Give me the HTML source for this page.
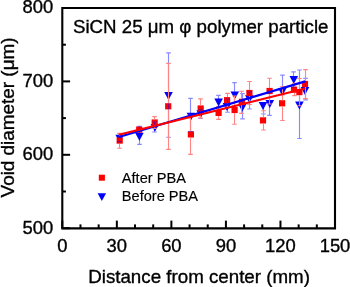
<!DOCTYPE html>
<html><head><meta charset="utf-8"><style>
html,body{margin:0;padding:0;background:#fff;}
svg{display:block;will-change:transform;font-family:"Liberation Sans",sans-serif;}
text{stroke:#000;stroke-width:0.35px;} .lg{stroke-width:0.15px;}
</style></head><body>
<svg width="350" height="287" viewBox="0 0 350 287">
<rect width="350" height="287" fill="#fff"/>
<g><path d="M115.40 134.80H124.00L119.70 142.70Z" fill="#0000ff"/><path d="M135.10 132.80H143.70L139.40 140.70Z" fill="#0000ff"/><path d="M150.60 123.90H159.20L154.90 131.80Z" fill="#0000ff"/><path d="M164.20 92.10H172.80L168.50 100.00Z" fill="#0000ff"/><path d="M186.60 112.70H195.20L190.90 120.60Z" fill="#0000ff"/><path d="M196.40 110.20H205.00L200.70 118.10Z" fill="#0000ff"/><path d="M214.30 98.60H222.90L218.60 106.50Z" fill="#0000ff"/><path d="M222.70 103.00H231.30L227.00 110.90Z" fill="#0000ff"/><path d="M230.50 91.40H239.10L234.80 99.30Z" fill="#0000ff"/><path d="M238.00 103.80H246.60L242.30 111.70Z" fill="#0000ff"/><path d="M245.00 95.20H253.60L249.30 103.10Z" fill="#0000ff"/><path d="M258.70 102.00H267.30L263.00 109.90Z" fill="#0000ff"/><path d="M265.50 100.10H274.10L269.80 108.00Z" fill="#0000ff"/><path d="M278.00 88.00H286.60L282.30 95.90Z" fill="#0000ff"/><path d="M289.50 76.00H298.10L293.80 83.90Z" fill="#0000ff"/><path d="M295.10 101.60H303.70L299.40 109.50Z" fill="#0000ff"/><path d="M300.70 87.10H309.30L305.00 95.00Z" fill="#0000ff"/><rect x="116.60" y="137.50" width="6.2" height="6.2" fill="#ff0000"/><rect x="136.10" y="126.50" width="6.2" height="6.2" fill="#ff0000"/><rect x="151.60" y="119.40" width="6.2" height="6.2" fill="#ff0000"/><rect x="165.10" y="103.20" width="6.2" height="6.2" fill="#ff0000"/><rect x="187.80" y="131.30" width="6.2" height="6.2" fill="#ff0000"/><rect x="197.60" y="105.40" width="6.2" height="6.2" fill="#ff0000"/><rect x="215.50" y="109.80" width="6.2" height="6.2" fill="#ff0000"/><rect x="224.00" y="97.10" width="6.2" height="6.2" fill="#ff0000"/><rect x="231.50" y="106.90" width="6.2" height="6.2" fill="#ff0000"/><rect x="238.80" y="98.70" width="6.2" height="6.2" fill="#ff0000"/><rect x="246.30" y="89.90" width="6.2" height="6.2" fill="#ff0000"/><rect x="259.90" y="117.30" width="6.2" height="6.2" fill="#ff0000"/><rect x="266.50" y="87.90" width="6.2" height="6.2" fill="#ff0000"/><rect x="279.00" y="100.20" width="6.2" height="6.2" fill="#ff0000"/><rect x="290.90" y="86.60" width="6.2" height="6.2" fill="#ff0000"/><rect x="296.30" y="89.00" width="6.2" height="6.2" fill="#ff0000"/><rect x="301.90" y="80.90" width="6.2" height="6.2" fill="#ff0000"/><path d="M119.5 135.7V136.6M117.2 135.7H121.8M119.5 140.6V141.6M117.2 141.6H121.8" fill="none" stroke="#0000ff" stroke-opacity="0.46" stroke-width="1.15"/><path d="M139.5 126.2V134.6M137.2 126.2H141.8M139.5 138.6V144.3M137.2 144.3H141.8" fill="none" stroke="#0000ff" stroke-opacity="0.46" stroke-width="1.15"/><path d="M154.5 122.0V125.7M152.2 122.0H156.8M154.5 129.7V132.0M152.2 132.0H156.8" fill="none" stroke="#0000ff" stroke-opacity="0.46" stroke-width="1.15"/><path d="M168.5 52.8V93.9M166.2 52.8H170.8M168.5 97.9V137.2M166.2 137.2H170.8" fill="none" stroke="#0000ff" stroke-opacity="0.46" stroke-width="1.15"/><path d="M190.5 98.4V114.5M188.2 98.4H192.8M190.5 118.5V131.5M188.2 131.5H192.8" fill="none" stroke="#0000ff" stroke-opacity="0.46" stroke-width="1.15"/><path d="M200.5 109.7V112.0M198.2 109.7H202.8M200.5 116.0V118.3M198.2 118.3H202.8" fill="none" stroke="#0000ff" stroke-opacity="0.46" stroke-width="1.15"/><path d="M218.5 95.3V100.4M216.2 95.3H220.8M218.5 104.4V108.0M216.2 108.0H220.8" fill="none" stroke="#0000ff" stroke-opacity="0.46" stroke-width="1.15"/><path d="M227.5 99.0V104.8M225.2 99.0H229.8M227.5 108.8V112.2M225.2 112.2H229.8" fill="none" stroke="#0000ff" stroke-opacity="0.46" stroke-width="1.15"/><path d="M234.5 82.6V93.2M232.2 82.6H236.8M234.5 97.2V106.0M232.2 106.0H236.8" fill="none" stroke="#0000ff" stroke-opacity="0.46" stroke-width="1.15"/><path d="M242.5 93.6V105.6M240.2 93.6H244.8M242.5 109.6V118.8M240.2 118.8H244.8" fill="none" stroke="#0000ff" stroke-opacity="0.46" stroke-width="1.15"/><path d="M249.5 92.0V97.0M247.2 92.0H251.8M249.5 101.0V109.0M247.2 109.0H251.8" fill="none" stroke="#0000ff" stroke-opacity="0.46" stroke-width="1.15"/><path d="M263.5 102.5V103.8M261.2 102.5H265.8M263.5 107.8V114.0M261.2 114.0H265.8" fill="none" stroke="#0000ff" stroke-opacity="0.46" stroke-width="1.15"/><path d="M269.5 92.0V101.9M267.2 92.0H271.8M269.5 105.9V115.3M267.2 115.3H271.8" fill="none" stroke="#0000ff" stroke-opacity="0.46" stroke-width="1.15"/><path d="M282.5 75.1V89.8M280.2 75.1H284.8M282.5 93.8V95.0M280.2 95.0H284.8" fill="none" stroke="#0000ff" stroke-opacity="0.46" stroke-width="1.15"/><path d="M293.5 71.9V77.8M291.2 71.9H295.8M293.5 81.8V87.0M291.2 87.0H295.8" fill="none" stroke="#0000ff" stroke-opacity="0.46" stroke-width="1.15"/><path d="M299.5 70.0V103.4M297.2 70.0H301.8M299.5 107.4V138.5M297.2 138.5H301.8" fill="none" stroke="#0000ff" stroke-opacity="0.46" stroke-width="1.15"/><path d="M305.5 78.3V88.9M303.2 78.3H307.8M305.5 92.9V99.9M303.2 99.9H307.8" fill="none" stroke="#0000ff" stroke-opacity="0.46" stroke-width="1.15"/><path d="M119.5 133.4V137.5M117.2 133.4H121.8M119.5 143.7V148.3M117.2 148.3H121.8" fill="none" stroke="#ff8585" stroke-width="1.1"/><path d="M154.5 116.6V119.4M152.2 116.6H156.8M154.5 125.6V128.4M152.2 128.4H156.8" fill="none" stroke="#ff8585" stroke-width="1.1"/><path d="M168.5 63.4V103.2M166.2 63.4H170.8M168.5 109.39999999999999V149.4M166.2 149.4H170.8" fill="none" stroke="#ff8585" stroke-width="1.1"/><path d="M190.5 115.3V131.3M188.2 115.3H192.8M190.5 137.5V154.4M188.2 154.4H192.8" fill="none" stroke="#ff8585" stroke-width="1.1"/><path d="M200.5 98.9V105.4M198.2 98.9H202.8M200.5 111.6V118.0M198.2 118.0H202.8" fill="none" stroke="#ff8585" stroke-width="1.1"/><path d="M218.5 106.5V109.80000000000001M216.2 106.5H220.8M218.5 116.0V119.4M216.2 119.4H220.8" fill="none" stroke="#ff8585" stroke-width="1.1"/><path d="M227.5 93.4V97.10000000000001M225.2 93.4H229.8M227.5 103.3V107.0M225.2 107.0H229.8" fill="none" stroke="#ff8585" stroke-width="1.1"/><path d="M234.5 96.0V106.9M232.2 96.0H236.8M234.5 113.1V124.3M232.2 124.3H236.8" fill="none" stroke="#ff8585" stroke-width="1.1"/><path d="M241.5 91.3V98.7M239.2 91.3H243.8M241.5 104.89999999999999V113.4M239.2 113.4H243.8" fill="none" stroke="#ff8585" stroke-width="1.1"/><path d="M249.5 81.5V89.9M247.2 81.5H251.8M249.5 96.1V104.5M247.2 104.5H251.8" fill="none" stroke="#ff8585" stroke-width="1.1"/><path d="M263.5 110.7V117.30000000000001M261.2 110.7H265.8M263.5 123.5V130.0M261.2 130.0H265.8" fill="none" stroke="#ff8585" stroke-width="1.1"/><path d="M269.5 78.2V87.9M267.2 78.2H271.8M269.5 94.1V104.0M267.2 104.0H271.8" fill="none" stroke="#ff8585" stroke-width="1.1"/><path d="M282.5 86.5V100.2M280.2 86.5H284.8M282.5 106.39999999999999V120.5M280.2 120.5H284.8" fill="none" stroke="#ff8585" stroke-width="1.1"/><path d="M294.5 83.4V86.60000000000001M292.2 83.4H296.8M294.5 92.8V95.6M292.2 95.6H296.8" fill="none" stroke="#ff8585" stroke-width="1.1"/><path d="M299.5 78.5V89.0M297.2 78.5H301.8M299.5 95.19999999999999V105.7M297.2 105.7H301.8" fill="none" stroke="#ff8585" stroke-width="1.1"/><path d="M305.5 69.6V80.9M303.2 69.6H307.8M305.5 87.1V98.6M303.2 98.6H307.8" fill="none" stroke="#ff8585" stroke-width="1.1"/><line x1="118.9" y1="137.06" x2="305.2" y2="81.4" stroke="#0000ff" stroke-width="2.2"/><line x1="118.8" y1="134.75" x2="305.2" y2="88.5" stroke="#ff0000" stroke-width="2.3"/></g>
<g stroke="#000" stroke-width="2"><line x1="62.30" y1="228.2" x2="62.30" y2="220.6" /><line x1="80.48" y1="228.2" x2="80.48" y2="224.39999999999998" /><line x1="98.66" y1="228.2" x2="98.66" y2="224.39999999999998" /><line x1="116.84" y1="228.2" x2="116.84" y2="220.6" /><line x1="135.02" y1="228.2" x2="135.02" y2="224.39999999999998" /><line x1="153.20" y1="228.2" x2="153.20" y2="224.39999999999998" /><line x1="171.38" y1="228.2" x2="171.38" y2="220.6" /><line x1="189.56" y1="228.2" x2="189.56" y2="224.39999999999998" /><line x1="207.74" y1="228.2" x2="207.74" y2="224.39999999999998" /><line x1="225.92" y1="228.2" x2="225.92" y2="220.6" /><line x1="244.10" y1="228.2" x2="244.10" y2="224.39999999999998" /><line x1="262.28" y1="228.2" x2="262.28" y2="224.39999999999998" /><line x1="280.46" y1="228.2" x2="280.46" y2="220.6" /><line x1="298.64" y1="228.2" x2="298.64" y2="224.39999999999998" /><line x1="316.82" y1="228.2" x2="316.82" y2="224.39999999999998" /><line x1="335.00" y1="228.2" x2="335.00" y2="220.6" /><line x1="62.3" y1="228.20" x2="70.1" y2="228.20" /><line x1="62.3" y1="191.50" x2="65.89999999999999" y2="191.50" /><line x1="62.3" y1="154.80" x2="70.1" y2="154.80" /><line x1="62.3" y1="118.10" x2="65.89999999999999" y2="118.10" /><line x1="62.3" y1="81.40" x2="70.1" y2="81.40" /><line x1="62.3" y1="44.70" x2="65.89999999999999" y2="44.70" /><line x1="62.3" y1="8.00" x2="70.1" y2="8.00" /></g>
<path d="M62.3 228.35V8.0H335.0V228.35" fill="none" stroke="#000" stroke-width="2.1"/>
<line x1="61.25" y1="228.35" x2="336.05" y2="228.35" stroke="#000" stroke-width="2.35"/>
<g font-size="18.4" fill="#000"><text x="62.30" y="251.5" text-anchor="middle">0</text><text x="116.84" y="251.5" text-anchor="middle">30</text><text x="171.38" y="251.5" text-anchor="middle">60</text><text x="225.92" y="251.5" text-anchor="middle">90</text><text x="280.46" y="251.5" text-anchor="middle">120</text><text x="335.00" y="251.5" text-anchor="middle">150</text><text x="53.3" y="233.60" text-anchor="end">500</text><text x="53.3" y="160.20" text-anchor="end">600</text><text x="53.3" y="86.80" text-anchor="end">700</text><text x="53.3" y="13.40" text-anchor="end">800</text></g>
<text x="73" y="32.9" font-size="18.7">SiCN 25 μm φ polymer particle</text>
<rect x="98.8" y="174.7" width="6.1" height="6.0" fill="#ff0000"/>
<path d="M97.6 193.2H106.1L101.85 200.9Z" fill="#0000ff"/>
<text class="lg" x="121.8" y="182.8" font-size="14.6">After PBA</text>
<text class="lg" x="121.8" y="201.1" font-size="14.6">Before PBA</text>
<text x="88.2" y="282.6" font-size="18.74">Distance from center (mm)</text>
<text transform="translate(14.2,197.4) rotate(-90)" font-size="18.9">Void diameter (μm)</text>
</svg>
</body></html>
